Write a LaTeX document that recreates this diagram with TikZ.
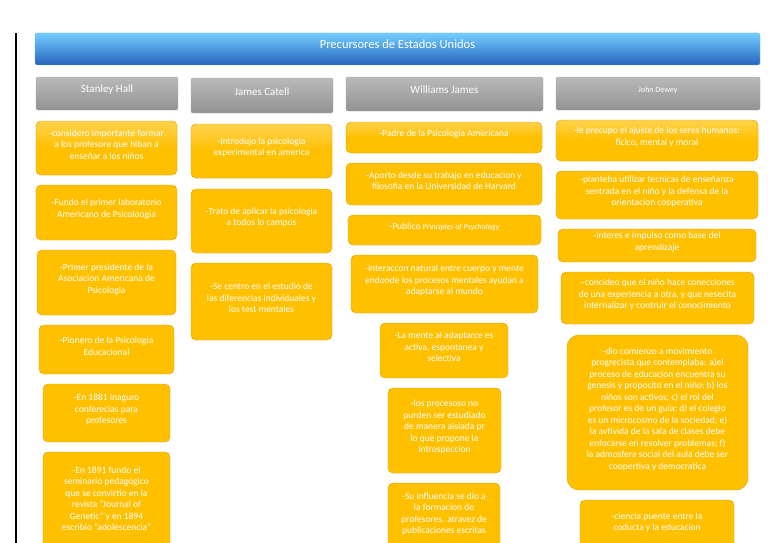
\documentclass[tikz,border=0pt]{standalone}
\usepackage{fontspec}
\setmainfont{Carlito}
\usetikzlibrary{fit}
\definecolor{yel}{HTML}{FFC000}
\definecolor{yeld}{HTML}{D9A300}
\definecolor{yell}{HTML}{FFD24D}
\tikzset{
 yb/.style={rounded corners=5pt, draw=yeld, fill=yel, inner sep=0pt, align=center, text=white, font=\fontsize{9.5}{11.5}\selectfont},
 ybg/.style={yb, top color=yell, bottom color=yel, middle color=yel},
 hd/.style={rounded corners=2pt, draw=gray!70, top color=gray!55, bottom color=gray!85, inner sep=0pt, text=white, font=\fontsize{11}{13}\selectfont},
}
\newcommand\bx[6][yb]{\node[#1, fit={(#3,#4)(#5,#6)}] {#2};}
\begin{document}
\begin{tikzpicture}[x=1pt,y=-1pt]
\useasboundingbox (0,0) rectangle (768,543);
\draw[line width=1.2pt] (16,33) -- (16,543);
\node[rounded corners=2pt, top color=blue!35!cyan!55!white, bottom color=blue!60!cyan!70!black!85, draw=blue!50!cyan!60, inner sep=0pt, text=white, font=\fontsize{12.5}{14}\selectfont, fit={(35,33)(760,65)}] (title) {Precursores de Estados Unidos};
\node[hd, fit={(36,77)(178,110)}] (h1) {Stanley Hall};
\node[hd, fit={(191,78)(333,113)}] (h2) {James Catell};
\node[hd, fit={(346,77)(543,111)}] (h3) {Williams James};
\node[hd, font=\fontsize{8}{10}\selectfont, fit={(556,77)(760,110)}] (h4) {John Dewey};
% col 1
\bx[ybg]{-considero importante formar\\a los profesore que hiban a\\enseñar a los niños}{36}{121}{177}{175}
\bx{-Fundo el primer laboratorio\\Americano de Psicoloogia}{36}{185}{177}{240}
\bx{-Primer presidente de la\\Asociacion Americana de\\Psicologia}{37}{250}{176}{315}
\bx{-Pionero de la Psicologia\\Educacional}{39}{325}{174}{374}
\bx{-En 1881 inaguro\\conferecias para\\profesores}{43}{384}{170}{442}
\bx{-En 1891 fundo el\\seminario pedagogico\\que se convirtio en la\\revista "Journal of\\Genetic" y en 1894\\escribio "adolescencia"}{43}{452}{170}{552}
% col 2
\bx[ybg]{-Introdujo la psicologia\\experimental en america}{191}{124}{332}{178}
\bx{-Trato de aplicar la psicologia\\a todos lo campos}{191}{189}{332}{253}
\node[yb, fit={(191,263)(332,340)}] {-Se centro en el estudio de\\las diferencias individuales y\\los test mentales\\[10pt]};
% col 3
\bx[ybg]{-Padre de la Psicologia Americana}{346}{122}{542}{153}
\bx{-Aporto desde su trabajo en educacion y\\filosofia en la Universidad de Harvard}{346}{163}{542}{205}
\bx{-Publico {\itshape\fontsize{8}{10}\selectfont Principles of Psychology}}{348}{215}{541}{245}
\node[yb, fit={(351,255)(538,313)}] {-interaccon natural entre cuerpo y mente\\endonde los procesos mentales ayudan a\\adaptarse al mundo\\[4pt]};
\bx{-La mente al adaptarce es\\activa, espontanea y\\selectiva\\[6pt]}{380}{323}{508}{378}
\bx{-los procesoso no\\purden ser estudiado\\de manera aislada pr\\lo que propone la\\introspeccion\\[6pt]}{388}{388}{501}{473}
\bx{-Su influencia se dio a\\la formacion de\\profesores. atravez de\\publicaciones escritas}{388}{483}{500}{552}
% col 4
\bx[ybg]{-le precupo el ajuste de los seres humanos:\\ficico, mental y moral\\[6pt]}{556}{120}{758}{161}
\bx{-planteba utilizar tecnicas de enseñanza\\sentrada en el niño y la defensa de la\\orientacion cooperativa}{556}{171}{758}{219}
\bx{-interes e impulso como base del\\aprendizaje}{558}{229}{756}{262}
\bx{--concideo que el niño hace conecciones\\de una experiencia a otra, y que nesecita\\internalizar y contruir el conocimiento}{561}{272}{754}{324}
\node[yb, rounded corners=12pt, fit={(567,335)(748,490)}] {-dio comienzo a movimiento\\progrecista que contemplaba: a)el\\proceso de educacion encuentra su\\genesis y propocito en el niño; b) los\\niños son activos; c) el rol del\\profesor es de un guia; d) el colegio\\es un microcosmo de la sociedad; e)\\la avtivida de la sala de clases debe\\enfocarse en resolver problemas; f)\\la admosfera social del aula debe ser\\coopertiva y democratica\\[4pt]};
\bx{-ciencia puente entre la\\coducta y la educacion}{580}{500}{734}{552}
\end{tikzpicture}
\end{document}
